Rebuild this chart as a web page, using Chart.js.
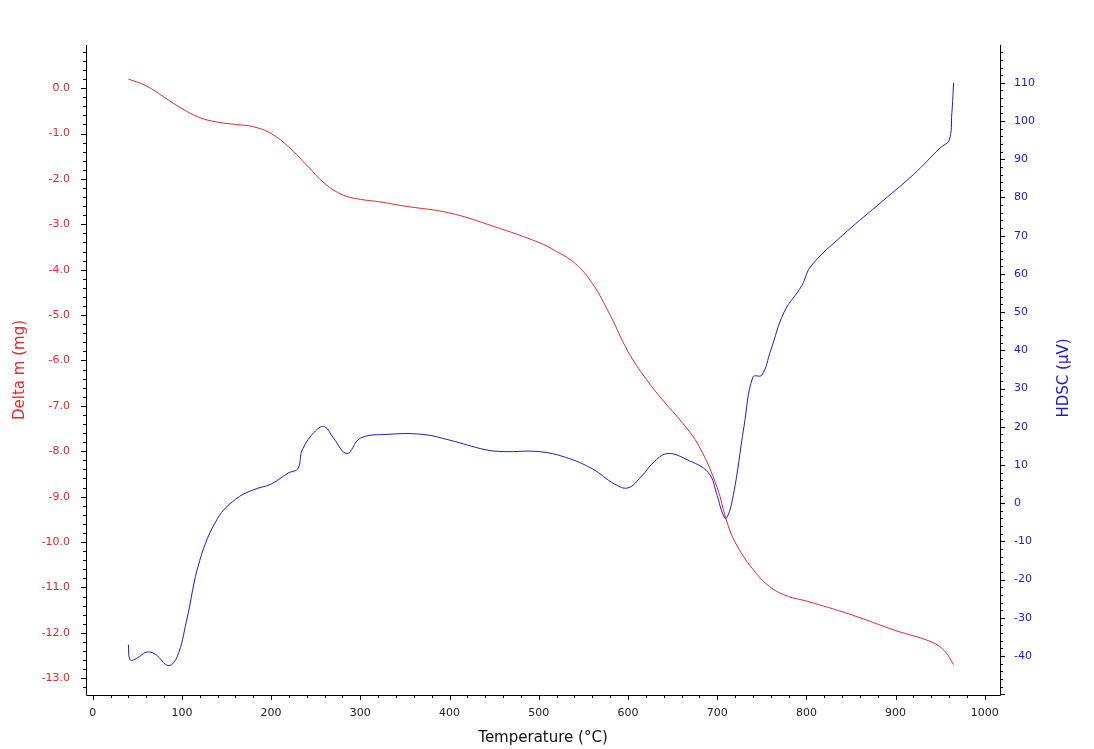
<!DOCTYPE html>
<html>
<head>
<meta charset="utf-8">
<script src="https://cdn.jsdelivr.net/npm/chart.js@4"></script>
<style>
  html, body { margin: 0; padding: 0; background: #fff; }
  #wrap { width: 1094px; height: 749px; }
</style>
</head>
<body>
<div id="wrap"><canvas id="tgChart"></canvas></div>
<script>
// --- data ---
const massTemps = [40, 60, 80, 100, 120, 140, 160, 180, 200, 220, 240, 260, 280, 300, 320, 350, 400, 450, 500, 520, 540, 560, 580, 600, 620, 640, 660, 680, 700, 710, 720, 740, 760, 780, 800, 850, 900, 940, 955, 965];
const massValues = [0.2, 0.05, -0.2, -0.45, -0.65, -0.75, -0.8, -0.85, -1.0, -1.3, -1.7, -2.1, -2.35, -2.45, -2.5, -2.6, -2.75, -3.05, -3.4, -3.6, -3.85, -4.3, -5.0, -5.8, -6.4, -6.9, -7.35, -7.9, -8.8, -9.5, -10.0, -10.6, -11.0, -11.2, -11.3, -11.6, -11.95, -12.2, -12.4, -12.7];

const dscTemps = [40, 42, 50, 60, 70, 85, 95, 105, 120, 140, 160, 180, 200, 220, 230, 235, 250, 260, 270, 285, 300, 330, 370, 400, 440, 460, 500, 530, 560, 585, 600, 615, 630, 645, 665, 690, 700, 705, 710, 718, 730, 740, 750, 760, 775, 795, 805, 840, 880, 920, 950, 960, 963, 965];
const dscValues = [-37, -41, -40.5, -39, -39.5, -42.5, -40, -31, -15, -4, 1, 3.5, 5, 8, 9, 14, 19, 20, 17, 13, 17, 18, 18, 16.5, 14, 13.5, 13.5, 12, 9, 5, 4, 7, 11, 13, 11.5, 8, 2, -2, -4, 2, 20, 33, 33.5, 40, 50, 57, 62, 70, 78, 86, 93, 95, 102, 110];

const xTicks = [0, 100, 200, 300, 400, 500, 600, 700, 800, 900, 1000];
const leftTicks = [0, -1, -2, -3, -4, -5, -6, -7, -8, -9, -10, -11, -12, -13];
const rightTicks = [110, 100, 90, 80, 70, 60, 50, 40, 30, 20, 10, 0, -10, -20, -30, -40];

const RED = '#e8262b';
const BLUE = '#1a1adc';
const FONT = 'DejaVu Sans';

// --- axes lines, ticks (major + minor) and rotated titles ---
const axisPainter = {
    id: 'axisPainter',
    afterDraw(chart) {
        const ctx = chart.ctx;
        const a = chart.chartArea;
        const xs = chart.scales.x, yl = chart.scales.yL, yr = chart.scales.yR;
        ctx.save();
        ctx.strokeStyle = '#000';
        ctx.lineWidth = 1;
        ctx.beginPath();
        ctx.moveTo(a.left + 0.5, a.top); ctx.lineTo(a.left + 0.5, a.bottom + 0.5);
        ctx.lineTo(a.right + 0.5, a.bottom + 0.5); ctx.lineTo(a.right + 0.5, a.top);
        ctx.stroke();

        ctx.beginPath();
        for (let v = 0; v <= 1000; v += 20) {
            const px = Math.round(xs.getPixelForValue(v)) + 0.5;
            const len = v % 100 === 0 ? 5 : 3;
            ctx.moveTo(px, a.bottom); ctx.lineTo(px, a.bottom + len);
        }
        for (let v = 0.8; v >= -13.3; v -= 0.2) {
            const r = Math.round(v * 10) / 10;
            const py = Math.round(yl.getPixelForValue(r)) + 0.5;
            const len = Math.abs(r - Math.round(r)) < 0.01 ? 5 : 3;
            ctx.moveTo(a.left - len, py); ctx.lineTo(a.left, py);
        }
        for (let v = 118; v >= -50; v -= 2) {
            const py = Math.round(yr.getPixelForValue(v)) + 0.5;
            const len = v % 10 === 0 ? 5 : 3;
            ctx.moveTo(a.right, py); ctx.lineTo(a.right + len, py);
        }
        ctx.stroke();

        ctx.font = '15px ' + FONT;
        ctx.textAlign = 'center';
        ctx.textBaseline = 'middle';
        ctx.fillStyle = '#111';
        ctx.fillText('Temperature (\u00B0C)', (a.left + a.right) / 2, 738);

        ctx.fillStyle = RED;
        ctx.translate(20, 370); ctx.rotate(-Math.PI / 2);
        ctx.fillText('Delta m (mg)', 0, 0);
        ctx.setTransform(chart.currentDevicePixelRatio, 0, 0, chart.currentDevicePixelRatio, 0, 0);
        ctx.fillStyle = BLUE;
        ctx.translate(1064, 378); ctx.rotate(-Math.PI / 2);
        ctx.fillText('HDSC (\u00B5V)', 0, 0);
        ctx.restore();
    }
};

const ctx = document.getElementById('tgChart').getContext('2d');
new Chart(ctx, {
    type: 'line',
    data: {
        datasets: [{
            label: 'Delta m',
            data: massTemps.map((t, i) => ({ x: t, y: massValues[i] })),
            borderColor: RED,
            borderWidth: 1,
            pointRadius: 0,
            tension: 0.4,
            yAxisID: 'yL'
        }, {
            label: 'HDSC',
            data: dscTemps.map((t, i) => ({ x: t, y: dscValues[i] })),
            borderColor: BLUE,
            borderWidth: 1,
            pointRadius: 0,
            tension: 0.4,
            yAxisID: 'yR'
        }]
    },
    options: {
        responsive: true,
        maintainAspectRatio: false,
        animation: false,
        layout: { padding: { top: 45, left: 0, right: 0, bottom: 0 } },
        plugins: { legend: { display: false }, tooltip: { enabled: false } },
        scales: {
            x: {
                type: 'linear', min: -7.5, max: 1017,
                grid: { display: false, drawTicks: false }, border: { display: false },
                afterBuildTicks: s => { s.ticks = xTicks.map(v => ({ value: v })); },
                afterFit: s => { s.height = 54; },
                ticks: { color: '#222', font: { family: FONT, size: 11 }, padding: 12, maxRotation: 0,
                         callback: v => String(v) }
            },
            yL: {
                type: 'linear', position: 'left', min: -13.37, max: 0.95,
                grid: { display: false, drawTicks: false }, border: { display: false },
                afterBuildTicks: s => { s.ticks = leftTicks.map(v => ({ value: v })); },
                afterFit: s => { s.width = 86; },
                ticks: { color: RED, font: { family: FONT, size: 11 }, padding: 16,
                         callback: v => v.toFixed(1) }
            },
            yR: {
                type: 'linear', position: 'right', min: -50.2, max: 119.9,
                grid: { display: false, drawTicks: false }, border: { display: false },
                afterBuildTicks: s => { s.ticks = rightTicks.map(v => ({ value: v })); },
                afterFit: s => { s.width = 94; },
                ticks: { color: BLUE, font: { family: FONT, size: 11 }, padding: 14,
                         callback: v => String(v) }
            }
        }
    },
    plugins: [axisPainter]
});
</script>
</body>
</html>
